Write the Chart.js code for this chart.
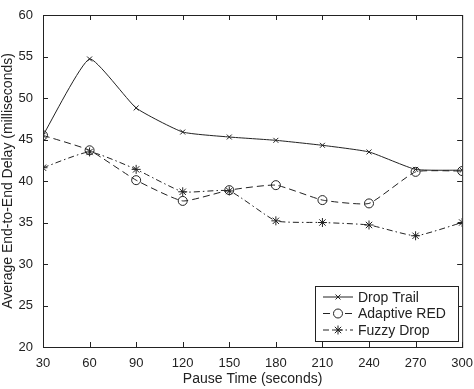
<!DOCTYPE html>
<html lang="en">
<head>
  <meta charset="UTF-8">
  <title>End-to-End Delay</title>
  <script src="https://cdn.jsdelivr.net/npm/chart.js@4/dist/chart.umd.min.js"></script>
  <style>
    html, body { margin: 0; padding: 0; background: #fff; }
    #wrap { width: 474px; height: 389px; }
  </style>
</head>
<body>
  <div id="wrap"><canvas id="myChart" width="474" height="389"></canvas></div>
  <script>
    const pauseTimes = [30, 60, 90, 120, 150, 180, 210, 240, 270, 300]
    const dropTrail = [45.5, 54.7, 48.8, 45.9, 45.3, 44.9, 44.3, 43.5, 41.4, 41.3]
    const adaptiveRed = [45.5, 43.7, 40.1, 37.6, 38.9, 39.5, 37.7, 37.3, 41.1, 41.2]
    const fuzzyDrop = [41.6, 43.5, 41.4, 38.7, 38.8, 35.2, 35.0, 34.7, 33.4, 35.0]
    const seriesNames = ['Drop Trail', 'Adaptive RED', 'Fuzzy Drop']
    const xTicks = [30, 60, 90, 120, 150, 180, 210, 240, 270, 300]
    const yTicks = [20, 25, 30, 35, 40, 45, 50, 55, 60]

    const ink = '#222'
    const font = 'Liberation Sans, Arial, sans-serif'

    const styles = [
      { dash: [], point: 'crossRot', r: 3.5 },
      { dash: [7, 4], point: 'circle', r: 4.5 },
      { dash: [6, 3, 1.5, 3], point: 'star', r: 4.5 }
    ]

    const toPoints = arr => arr.map((v, i) => ({ x: pauseTimes[i], y: v }))

    // box round plot area + inward tick marks + legend inside the plot
    const frame = {
      id: 'frame',
      afterDraw(chart) {
        const { ctx, chartArea: a, scales } = chart
        ctx.save()
        ctx.strokeStyle = ink
        ctx.lineWidth = 1
        ctx.strokeRect(a.left + 0.5, a.top + 0.5, a.right - a.left, a.bottom - a.top)
        ctx.beginPath()
        xTicks.forEach(t => {
          const px = Math.round(scales.x.getPixelForValue(t)) + 0.5
          ctx.moveTo(px, a.bottom); ctx.lineTo(px, a.bottom - 5)
          ctx.moveTo(px, a.top); ctx.lineTo(px, a.top + 5)
        })
        yTicks.forEach(t => {
          const py = Math.round(scales.y.getPixelForValue(t)) + 0.5
          ctx.moveTo(a.left, py); ctx.lineTo(a.left + 5, py)
          ctx.moveTo(a.right, py); ctx.lineTo(a.right - 5, py)
        })
        ctx.stroke()

        // legend
        const bx = 315, by = 286, bw = 143, bh = 55
        ctx.fillStyle = '#fff'
        ctx.fillRect(bx, by, bw, bh)
        ctx.strokeRect(bx + 0.5, by + 0.5, bw, bh)
        ctx.font = '14px ' + font
        ctx.textBaseline = 'middle'
        seriesNames.forEach((name, i) => {
          const y = by + 11 + i * 16.5
          const s = styles[i]
          ctx.strokeStyle = ink
          ctx.setLineDash(s.dash)
          ctx.beginPath(); ctx.moveTo(bx + 8, y); ctx.lineTo(bx + 38, y); ctx.stroke()
          ctx.setLineDash([])
          ctx.fillStyle = '#fff'
          Chart.helpers.drawPoint(ctx, { pointStyle: s.point, radius: s.r, borderWidth: 1 }, bx + 23, y)
          ctx.fillStyle = ink
          ctx.fillText(name, bx + 43, y + 1)
        })
        ctx.restore()
      }
    }

    const ctx = document.getElementById('myChart').getContext('2d')
    new Chart(ctx, {
      type: 'line',
      data: {
        datasets: [dropTrail, adaptiveRed, fuzzyDrop].map((d, i) => ({
          label: seriesNames[i],
          data: toPoints(d),
          borderColor: ink,
          backgroundColor: 'rgba(0,0,0,0)',
          borderWidth: 1,
          borderDash: styles[i].dash,
          pointStyle: styles[i].point,
          pointRadius: styles[i].r,
          pointBorderColor: ink,
          pointBorderWidth: 1,
          pointBackgroundColor: 'rgba(0,0,0,0)',
          tension: 0.15
        }))
      },
      options: {
        responsive: false,
        animation: false,
        layout: { padding: { top: 15, right: 11, left: 0, bottom: 0 } },
        plugins: { legend: { display: false }, tooltip: { enabled: false } },
        scales: {
          x: {
            type: 'linear',
            min: 30, max: 300,
            afterBuildTicks: s => { s.ticks = xTicks.map(v => ({ value: v })) },
            afterFit: s => { s.height = 42 },
            grid: { display: false },
            border: { display: false },
            ticks: { color: ink, font: { family: font, size: 13 }, padding: 1, maxRotation: 0 },
            title: { display: true, text: 'Pause Time (seconds)', color: ink, font: { family: font, size: 14 }, padding: { top: 0, bottom: 1 } }
          },
          y: {
            min: 20, max: 60,
            afterBuildTicks: s => { s.ticks = yTicks.map(v => ({ value: v })) },
            afterFit: s => { s.width = 43 },
            grid: { display: false },
            border: { display: false },
            ticks: { color: ink, font: { family: font, size: 13 }, padding: 2 },
            title: { display: true, text: 'Average End-to-End Delay (milliseconds)', color: ink, font: { family: font, size: 14 }, padding: { top: 0, bottom: 0 } }
          }
        }
      },
      plugins: [frame]
    })
  </script>
</body>
</html>
